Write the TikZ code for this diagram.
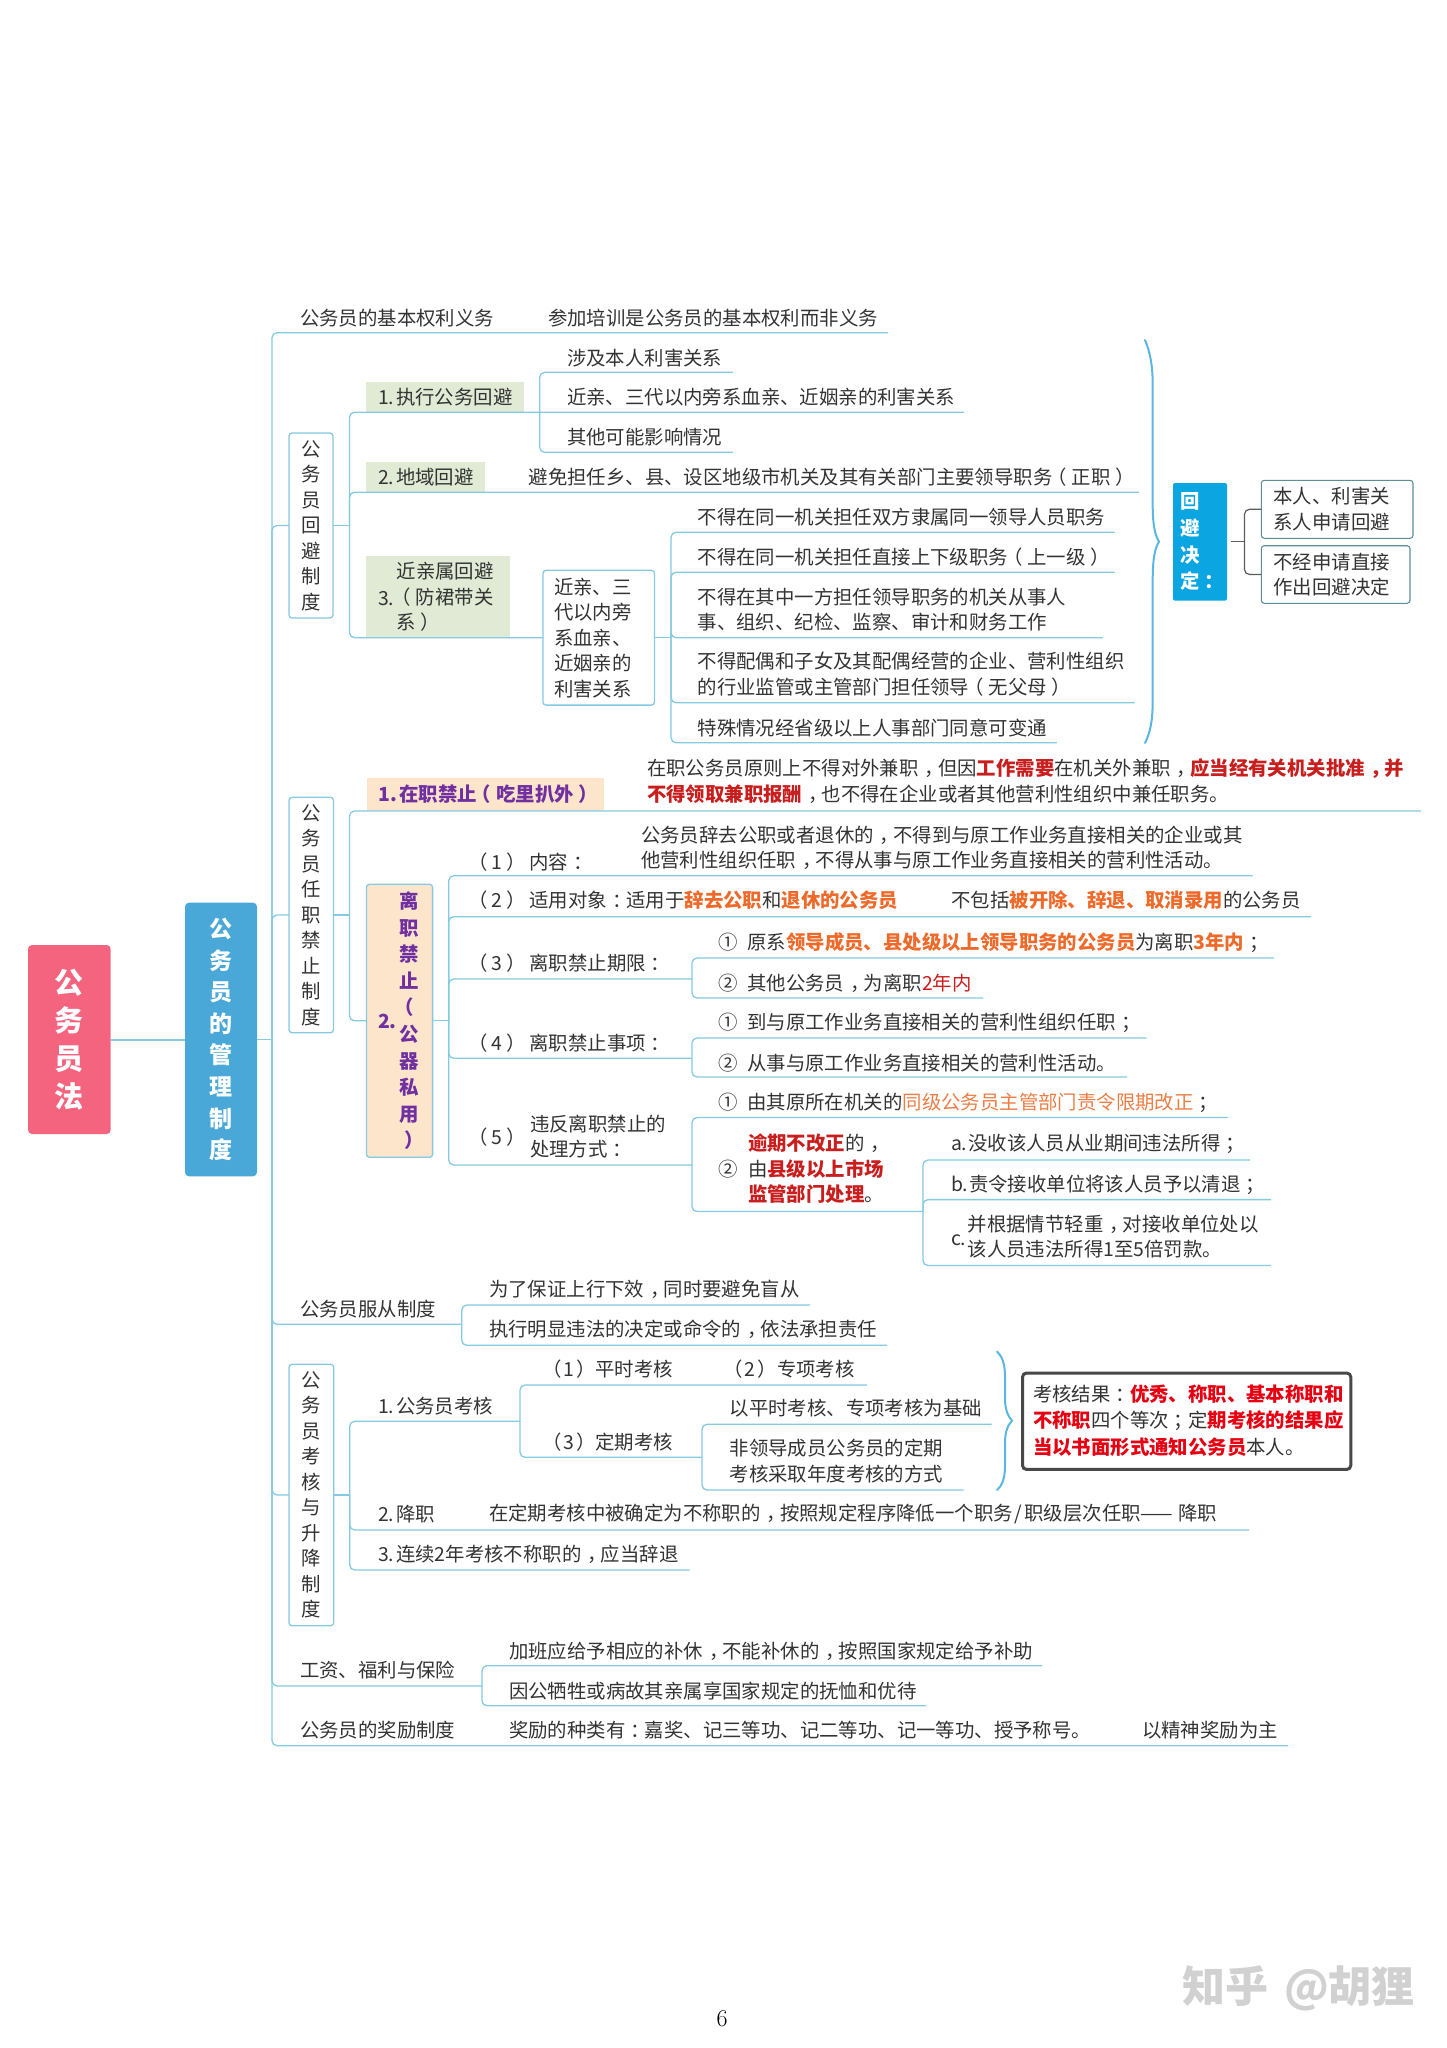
\documentclass[tikz,border=0pt]{standalone}
\usepackage{fontspec}
\newfontfamily\cjk{Noto Sans CJK SC}
\definecolor{lnk}{HTML}{84CAE0}
\definecolor{ink}{HTML}{333333}
\definecolor{grn}{HTML}{E0EAD5}
\definecolor{pch}{HTML}{FDE5CC}
\definecolor{ppl}{HTML}{7030A0}
\definecolor{rootc}{HTML}{F4647F}
\definecolor{mainc}{HTML}{4AA8D8}
\definecolor{decc}{HTML}{0BA5E2}
\definecolor{brc}{HTML}{5CB6E2}
\definecolor{drd}{HTML}{C81E1E}
\definecolor{org}{HTML}{EE6A2A}
\definecolor{org2}{HTML}{ED7D45}
\definecolor{brd}{HTML}{E60012}
\definecolor{nbd}{HTML}{484848}
% full-width punctuation sits in the middle of its em square, as in the reference
\catcode`，=\active \def，{\kern6pt\char"FF0C\kern-6pt}
\catcode`：=\active \def：{\kern5pt\char"FF1A\kern-5pt}
\catcode`；=\active \def；{\kern5pt\char"FF1B\kern-5pt}
\catcode`（=\active \def（{\kern-5pt\char"FF08\kern5pt}
\catcode`）=\active \def）{\kern5pt\char"FF09\kern-5pt}
\newcommand\st{\rule[-2.3pt]{0pt}{19.3pt}}
\newcommand\RB[1]{\textcolor{drd}{\bfseries #1}}
\newcommand\OB[1]{\textcolor{org}{\bfseries #1}}
\newcommand\BR[1]{\textcolor{brd}{\bfseries #1}}
\newcommand\pn[1]{\char"FF08\kern4pt #1\kern4pt\char"FF09\kern4pt}
\newcommand\pq[1]{\char"FF08\kern2pt #1\kern2pt\char"FF09}
\newcommand\cir[1]{#1\kern10pt}
\newcommand\bx[7]{%
  \pgfmathsetmacro\mybw{#5-#3}\pgfmathsetmacro\mybh{#6-#4}%
  \pgfmathsetmacro\mybcx{(#3+#5)/2}\pgfmathsetmacro\mybcy{(#4+#6)/2}%
  \node[#1,minimum width=\mybw pt,minimum height=\mybh pt] (#2) at (\mybcx,\mybcy) {#7};}
\newcommand\tp[7]{%
  \node[txt] (#2) at (#3,#4) {#7};
  \coordinate (#2-e) at (#5,#6);
  \draw[link] (#1) |- (#2-e);}
\tikzset{
  txt/.style={anchor=west,inner sep=0pt,outer sep=0pt,align=left,text=ink,
    font=\cjk\fontsize{19.4}{25.5}\selectfont,execute at begin node=\st},
  link/.style={draw=lnk,line width=1.3pt,rounded corners=5pt},
  dlink/.style={draw=ink!80,line width=1.2pt,rounded corners=5pt},
  brace/.style={draw=brc,line width=2pt,line cap=round},
  lbox/.style={draw=lnk,fill=white,line width=1.3pt,rounded corners=3pt,inner sep=0pt,outer sep=0pt,align=center,text=ink,
    font=\cjk\fontsize{19.4}{25.5}\selectfont},
  gbox/.style={fill=grn,inner sep=0pt,outer sep=0pt},
  pbox/.style={fill=pch,inner sep=0pt,outer sep=0pt},
  lzbox/.style={draw=lnk,fill=pch,line width=1.3pt,rounded corners=3pt,inner sep=0pt,outer sep=0pt},
  purp/.style={inner sep=0pt,outer sep=0pt,text=ppl,font=\cjk\bfseries\fontsize{19.4}{26.6}\selectfont},
  dbox/.style={draw=lnk!70!black,fill=white,line width=1.1pt,rounded corners=3pt,inner sep=0pt,outer sep=0pt},
  rootb/.style={fill=rootc,rounded corners=4pt,inner sep=0pt,outer sep=0pt,align=center,text=white,
    font=\cjk\bfseries\fontsize{29}{38}\selectfont},
  mainb/.style={fill=mainc,rounded corners=4pt,inner sep=0pt,outer sep=0pt,align=center,text=white,
    font=\cjk\bfseries\fontsize{23}{31.6}\selectfont},
  decb/.style={fill=decc,rounded corners=2pt,inner sep=0pt,outer sep=0pt},
  notebox/.style={draw=nbd,fill=white,line width=3pt,rounded corners=4pt,inner sep=0pt,outer sep=0pt},
}
\begin{document}
\begin{tikzpicture}[x=1pt,y=-1pt]
\useasboundingbox (0,0) rectangle (1447,2048);
% root
\bx{rootb}{root}{28}{945}{110.7}{1134}{公\\务\\员\\法}
\bx{mainb}{mains}{185}{902.7}{257}{1176.3}{公\\务\\员\\的\\管\\理\\制\\度}
\draw[draw=lnk,line width=2pt] (root.east) -- (mains.west);
\coordinate (jm) at (272,1039.5);
\draw[link] (mains.east) -- (jm);
% top item
\tp{jm}{a}{300}{318}{888}{332.7}{公务员的基本权利义务}
\node[txt] (a2) at (548,318) {参加培训是公务员的基本权利而非义务};
% ---- 回避
\bx{lbox}{hb}{289}{433}{333}{618}{公\\务\\员\\回\\避\\制\\度}
\draw[link] (jm) |- (hb.west);
\coordinate (j1) at (349.5,525.5);
\draw[link] (hb.east) -- (j1);
\bx{gbox}{g1b}{366}{381.7}{523.6}{412.3}{}
\bx{gbox}{g2b}{366}{461.7}{484.6}{492.3}{}
\bx{gbox}{g3b}{366}{555.7}{509.5}{637}{}
\tp{j1}{g1}{378}{397}{964}{412.3}{1.\kern2pt 执行公务回避}
\coordinate (j1a) at (539.7,412.3);
\tp{j1a}{g1a}{567}{358}{733}{372.3}{涉及本人利害关系}
\node[txt] (g1b2) at (567,397) {近亲、三代以内旁系血亲、近姻亲的利害关系};
\tp{j1a}{g1c}{567}{437}{733}{452.3}{其他可能影响情况}
\tp{j1}{g2}{378}{477}{1139}{492.3}{2.\kern2pt 地域回避}
\node[txt] (g2t) at (528.6,477) {避免担任乡、县、设区地级市机关及其有关部门主要领导职务（正职）};
\node[txt] (g3n) at (378,598) {3.};
\node[txt] (g3t) at (396.6,597) {近亲属回避\\\st（防裙带关\\\st 系）};
\bx{lbox}{qs}{543}{570.3}{654.5}{705.1}{}
\node[txt] (qst) at (554,638.4) {近亲、三\\\st 代以内旁\\\st 系血亲、\\\st 近姻亲的\\\st 利害关系};
\draw[link] (j1) |- (qs.west);
\coordinate (j1b) at (671,637.7);
\draw[link] (qs.east) -- (j1b);
\tp{j1b}{q1}{697.7}{517}{1114.7}{532.3}{不得在同一机关担任双方隶属同一领导人员职务}
\tp{j1b}{q2}{697.7}{557}{1114.7}{572.3}{不得在同一机关担任直接上下级职务（上一级）}
\tp{j1b}{q3}{697.7}{609.7}{1102.5}{637.7}{不得在其中一方担任领导职务的机关从事人\\\st 事、组织、纪检、监察、审计和财务工作}
\tp{j1b}{q4}{697.7}{674.5}{1134.5}{702.7}{不得配偶和子女及其配偶经营的企业、营利性组织\\\st 的行业监管或主管部门担任领导（无父母）}
\tp{j1b}{q5}{697.7}{727.7}{1056.8}{742.7}{特殊情况经省级以上人事部门同意可变通}
% brace 1
\draw[brace] (1145,340) .. controls (1150,352) and (1152.7,365) .. (1152.7,385) -- (1152.7,505)
  .. controls (1152.7,525) and (1155,535) .. (1159,541.7)
  .. controls (1155,548) and (1152.7,558) .. (1152.7,580) -- (1152.7,700)
  .. controls (1152.7,722) and (1150,733) .. (1145,743);
\bx{decb}{dec}{1173}{483}{1227}{600.7}{}
\node[inner sep=0pt,outer sep=0pt,align=left,text=white,font=\cjk\bfseries\fontsize{19.4}{26.7}\selectfont,anchor=west] (dect) at (1180,541.7) {回\\避\\决\\定：};
\coordinate (jd0) at (1231,541.7);
\coordinate (j7) at (1244.5,541.7);
\draw[dlink] (jd0) -- (j7);
\bx{dbox}{b1}{1261.3}{480.3}{1413}{538.3}{}
\node[txt] (b1t) at (1273.5,509.3) {本人、利害关\\\st 系人申请回避};
\bx{dbox}{b2}{1261.3}{545.7}{1410}{603.3}{}
\node[txt] (b2t) at (1273.5,574.8) {不经申请直接\\\st 作出回避决定};
\draw[dlink] (j7) |- (b1.west);
\draw[dlink] (j7) |- (b2.west);
% ---- 任职禁止
\bx{lbox}{rz}{289}{797.3}{333.5}{1032.7}{公\\务\\员\\任\\职\\禁\\止\\制\\度}
\draw[link] (jm) |- (rz.west);
\coordinate (j2) at (349.5,915);
\draw[link] (rz.east) -- (j2);
\bx{pbox}{z1b}{366.5}{777.7}{603.6}{810.5}{}
\tp{j2}{z1}{378.6}{794}{1421}{811}{\textcolor{ppl}{\bfseries 1.\kern2pt 在职禁止（吃里扒外）}}
\node[txt] (z1t) at (647,781) {在职公务员原则上不得对外兼职，但因\RB{工作需要}在机关外兼职，\RB{应当经有关机关批准，并}\\\st\RB{不得领取兼职报酬}，也不得在企业或者其他营利性组织中兼任职务。};
\bx{lzbox}{lz}{366.5}{884.3}{432.6}{1157.3}{}
\node[purp,anchor=west] (lzn) at (378,1021.7) {2.};
\node[purp,align=center] (lzc) at (409.4,1020.8) {离\\职\\禁\\止\\（\\公\\器\\私\\用\\）};
\draw[link] (j2) |- (lz.west);
\coordinate (j3) at (448.7,1020.8);
\draw[link] (lz.east) -- (j3);
\tp{j3}{l1}{468}{861.7}{1252.5}{875.8}{\pn{1}内容：}
\node[txt] (l1t) at (641,848) {公务员辞去公职或者退休的，不得到与原工作业务直接相关的企业或其\\\st 他营利性组织任职，不得从事与原工作业务直接相关的营利性活动。};
\tp{j3}{l2}{468}{900.5}{1311}{916.7}{\pn{2}适用对象：适用于\OB{辞去公职}和\OB{退休的公务员}}
\node[txt] (l2t) at (951.5,900.5) {不包括\OB{被开除、辞退、取消录用}的公务员};
\tp{j3}{l3}{468}{963}{692}{979}{\pn{3}离职禁止期限：}
\coordinate (l3j) at (692,979);
\tp{l3j}{l3a}{718}{942.7}{1274}{958}{\cir{①}原系\OB{领导成员、县处级以上领导职务的公务员}为离职\OB{3年内}；}
\tp{l3j}{l3b}{718}{983}{983}{998}{\cir{②}其他公务员，为离职\textcolor{drd}{2年内}}
\tp{j3}{l4}{468}{1042.7}{692}{1058.3}{\pn{4}离职禁止事项：}
\coordinate (l4j) at (692,1058.3);
\tp{l4j}{l4a}{718}{1022.8}{1146.7}{1038}{\cir{①}到与原工作业务直接相关的营利性组织任职；}
\tp{l4j}{l4b}{718}{1063.4}{1127}{1077}{\cir{②}从事与原工作业务直接相关的营利性活动。}
\tp{j3}{l5}{468}{1137}{692}{1165}{\pn{5}}
\node[txt] (l5t) at (530,1137) {违反离职禁止的\\\st 处理方式：};
\coordinate (l5j) at (692,1165);
\tp{l5j}{l5a}{718}{1103}{1228}{1117.5}{\cir{①}由其原所在机关的\textcolor{org2}{同级公务员主管部门责令限期改正}；}
\tp{l5j}{l5b}{718}{1169}{923}{1211.5}{②}
\node[txt] (l5bt) at (748,1169) {\RB{逾期不改正}的，\\\st 由\RB{县级以上市场}\\\st\RB{监管部门处理}。};
\coordinate (l5k) at (923,1211.5);
\tp{l5k}{m1}{951}{1144}{1250}{1160}{a.\kern1pt 没收该人员从业期间违法所得；}
\tp{l5k}{m2}{951}{1184.4}{1271}{1199.6}{b.\kern1pt 责令接收单位将该人员予以清退；}
\tp{l5k}{m3}{951}{1238.5}{1271}{1265.5}{c.}
\node[txt] (m3t) at (967.7,1237) {并根据情节轻重，对接收单位处以\\\st 该人员违法所得1至5倍罚款。};
% ---- 服从
\tp{jm}{f}{300}{1309}{461.8}{1324.3}{公务员服从制度}
\coordinate (fj) at (461.8,1324.3);
\tp{fj}{f1}{489}{1289}{810}{1305}{为了保证上行下效，同时要避免盲从}
\tp{fj}{f2}{489}{1329}{887}{1345.3}{执行明显违法的决定或命令的，依法承担责任}
% ---- 考核
\bx{lbox}{kh}{289}{1364.3}{333.7}{1625.7}{公\\务\\员\\考\\核\\与\\升\\降\\制\\度}
\draw[link] (jm) |- (kh.west);
\coordinate (j6) at (349.7,1495);
\draw[link] (kh.east) -- (j6);
\tp{j6}{k1}{378}{1405.7}{520}{1421.3}{1.\kern2pt 公务员考核}
\coordinate (k1j) at (520,1421.3);
\tp{k1j}{k1a}{542}{1369}{867}{1385}{\pq{1}平时考核}
\node[txt] (k1b) at (723.5,1369) {\pq{2}专项考核};
\tp{k1j}{k1c}{542}{1441.7}{702}{1457.3}{\pq{3}定期考核}
\coordinate (k1k) at (702,1457.3);
\tp{k1k}{k1d}{729.6}{1408}{991.7}{1424.3}{以平时考核、专项考核为基础}
\tp{k1k}{k1e}{729.6}{1461.5}{963.5}{1490}{非领导成员公务员的定期\\\st 考核采取年度考核的方式}
\tp{j6}{k2}{378}{1514}{1249}{1530}{2.\kern2pt 降职}
\node[txt] (k2t) at (489,1514) {在定期考核中被确定为不称职的，按照规定程序降低一个职务\kern2pt/\kern2pt 职级层次任职——\kern5pt 降职};
\tp{j6}{k3}{378}{1554}{689.5}{1570}{3.\kern2pt 连续2年考核不称职的，应当辞退}
% brace 2
\draw[brace] (997,1351.5) .. controls (1002,1356) and (1005,1364) .. (1005,1376) -- (1005,1398)
  .. controls (1005,1410) and (1008,1416) .. (1012,1420.7)
  .. controls (1008,1425) and (1005,1431) .. (1005,1443) -- (1005,1466)
  .. controls (1005,1478) and (1002,1486) .. (997,1490);
\bx{notebox}{note}{1022.5}{1373}{1350.8}{1469.4}{}
\node[txt,font=\cjk\fontsize{19.4}{26.5}\selectfont] (notet) at (1033,1420.7) {考核结果：\BR{优秀、称职、基本称职和}\\\st\BR{不称职}四个等次；定\BR{期考核的结果应}\\\st\BR{当以书面形式通知公务员}本人。};
% ---- 工资
\tp{jm}{gz}{300}{1670}{482}{1686}{工资、福利与保险}
\coordinate (gj) at (482,1686);
\tp{gj}{gz1}{509}{1650.7}{1042}{1665.7}{加班应给予相应的补休，不能补休的，按照国家规定给予补助}
\tp{gj}{gz2}{509}{1691}{926}{1705.7}{因公牺牲或病故其亲属享国家规定的抚恤和优待}
% ---- 奖励
\tp{jm}{jl}{300}{1730}{1288}{1745.7}{公务员的奖励制度}
\node[txt] (jl1) at (509,1730) {奖励的种类有：嘉奖、记三等功、记二等功、记一等功、授予称号。};
\node[txt] (jl2) at (1142,1730) {以精神奖励为主};
% page number, watermark
\node[inner sep=0pt,font=\fontsize{24}{28}\selectfont,text=black] (pg) at (722,2019) {6};
\node[inner sep=0pt,anchor=west,text=black!18,font=\cjk\bfseries\fontsize{43}{50}\selectfont] (wm) at (1182,1988) {知乎\kern16pt @胡狸};
\end{tikzpicture}
\end{document}
